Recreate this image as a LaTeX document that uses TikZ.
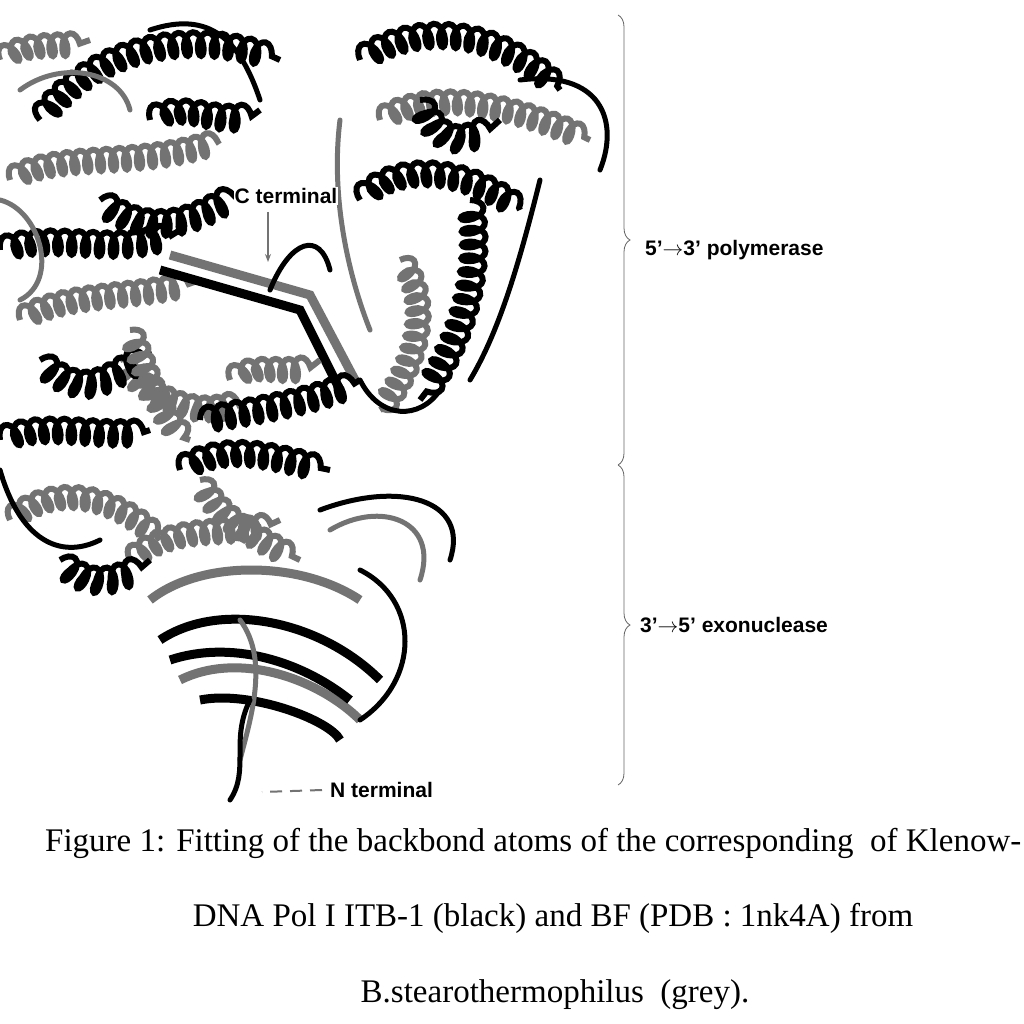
\documentclass[tikz,border=0pt]{standalone}
\usepackage{fontspec}
\setmainfont{Liberation Serif}
\setsansfont{Liberation Sans}
\usetikzlibrary{decorations.pathmorphing,decorations.pathreplacing,arrows.meta}
\begin{document}
\begin{tikzpicture}[x=1pt,y=-1pt,
  helixB/.style={draw=black,line width=6pt,decorate,decoration={coil,aspect=0.5,amplitude=12pt,segment length=14pt}},
  helixG/.style={draw=black!55,line width=6pt,decorate,decoration={coil,aspect=0.5,amplitude=11pt,segment length=13pt}},
  loopB/.style={draw=black,line width=5pt,line cap=round},
  loopG/.style={draw=black!55,line width=5pt,line cap=round},
  sheetB/.style={draw=black,line width=9pt},
  sheetG/.style={draw=black!55,line width=9pt},
  lbl/.style={font=\sffamily\bfseries\fontsize{21}{24}\selectfont,inner sep=0pt},
  captext/.style={font=\fontsize{33}{36}\selectfont,inner sep=0pt}]
\useasboundingbox (0,0) rectangle (1024,1024);
\fill[white] (0,0) rectangle (1024,1024);
\begin{scope}
\clip (0,0) rectangle (620,810);
% left upper lobe
\draw[helixB] (40,120) .. controls (100,40) and (200,30) .. (280,60);
\draw[helixG] (10,180) .. controls (60,150) and (140,170) .. (220,140);
\draw[helixB] (0,250) .. controls (60,230) and (120,260) .. (180,230);
\draw[helixG] (20,320) .. controls (70,290) and (140,300) .. (200,280);
\draw[helixB] (100,200) .. controls (150,240) and (200,220) .. (240,190);
\draw[helixG] (120,360) .. controls (150,400) and (200,420) .. (240,400);
\draw[helixB] (40,360) .. controls (80,400) and (110,380) .. (150,350);
\draw[helixB] (150,120) .. controls (190,100) and (220,130) .. (260,110);
\draw[helixG] (0,60) .. controls (30,40) and (60,50) .. (90,40);
\draw[loopB] (150,30) .. controls (210,10) and (240,40) .. (260,100);
\draw[loopG] (20,90) .. controls (60,60) and (120,70) .. (130,110);
\draw[sheetB] (160,270) -- (300,310) -- (340,390);
\draw[sheetG] (170,255) -- (310,295) -- (355,380);
\draw[loopB] (270,290) .. controls (290,240) and (320,230) .. (330,270);
\draw[loopG] (0,200) .. controls (40,210) and (60,280) .. (20,300);
% right lobe
\draw[helixB] (360,60) .. controls (420,20) and (500,30) .. (560,90);
\draw[helixG] (380,120) .. controls (430,90) and (500,100) .. (590,140);
\draw[helixB] (360,200) .. controls (400,160) and (470,170) .. (520,210);
\draw[helixG] (400,260) .. controls (430,300) and (420,360) .. (380,410);
\draw[helixB] (470,200) .. controls (480,260) and (470,330) .. (420,400);
\draw[helixB] (420,100) .. controls (440,150) and (470,140) .. (500,120);
\draw[loopB] (520,80) .. controls (600,70) and (620,120) .. (600,170);
\draw[loopG] (340,120) .. controls (330,200) and (350,280) .. (370,330);
\draw[loopB] (540,180) .. controls (520,260) and (500,330) .. (470,380);
\draw[loopB] (360,380) .. controls (380,420) and (420,420) .. (440,390);
% middle
\draw[helixG] (130,330) .. controls (150,380) and (160,420) .. (190,440);
\draw[helixB] (200,420) .. controls (260,410) and (320,400) .. (360,380);
\draw[helixG] (230,380) .. controls (260,360) and (290,380) .. (320,360);
% bottom lobe
\draw[helixB] (0,440) .. controls (50,420) and (100,440) .. (150,430);
\draw[helixG] (10,520) .. controls (60,480) and (120,500) .. (160,540);
\draw[helixB] (180,470) .. controls (230,440) and (280,460) .. (330,470);
\draw[helixG] (130,560) .. controls (180,520) and (230,540) .. (280,520);
\draw[helixG] (200,480) .. controls (220,520) and (260,540) .. (300,560);
\draw[helixB] (60,560) .. controls (90,590) and (120,580) .. (150,560);
\draw[loopB] (0,470) .. controls (20,540) and (60,560) .. (100,540);
\draw[sheetG] (150,600) .. controls (200,560) and (300,560) .. (360,600);
\draw[sheetB] (160,640) .. controls (220,600) and (320,620) .. (380,680);
\draw[sheetG] (180,680) .. controls (240,650) and (320,680) .. (360,720);
\draw[sheetB] (200,700) .. controls (250,690) and (330,720) .. (340,740);
\draw[sheetB] (170,660) .. controls (230,640) and (300,660) .. (350,700);
\draw[loopB] (320,510) .. controls (400,480) and (470,500) .. (450,560);
\draw[loopG] (330,530) .. controls (380,500) and (440,520) .. (420,580);
\draw[loopB] (360,570) .. controls (420,600) and (420,680) .. (360,720);
\draw[loopG] (240,620) .. controls (270,660) and (250,720) .. (240,760);
\draw[loopB] (250,700) .. controls (230,740) and (250,770) .. (230,800);
\end{scope}
% braces
\draw[black!60,line width=0.8pt,decorate,decoration={brace,amplitude=12pt}] (618,15) -- (618,465);
\draw[black!60,line width=0.8pt,decorate,decoration={brace,amplitude=12pt}] (618,465) -- (618,785);
% labels
\node[lbl,anchor=west] (pol) at (645,250) {5’$\rightarrow$3’ polymerase};
\node[lbl,anchor=west] (exo) at (640,625) {3’$\rightarrow$5’ exonuclease};
\node[lbl,fill=white,inner sep=1pt] (ct) at (286,196) {C terminal};
\coordinate (ctend) at (268,262);
\draw[black!55,line width=1.2pt,-{Stealth[length=8pt]}] (268,212) -- (ctend);
\node[lbl,anchor=west] (nt) at (330,790) {N terminal};
\coordinate (ntend) at (262,792);
\draw[black!55,line width=2pt,dash pattern=on 12pt off 8pt] (nt.west) ++(-8,0) -- (ntend);
% caption
\node[captext,anchor=west] (c1) at (45,843) {Figure 1: Fitting of the backbond atoms of the corresponding\ \ of Klenow-1};
\node[captext] (c2) at (553,918) {DNA Pol I ITB-1 (black) and BF (PDB : 1nk4A) from};
\node[captext] (c3) at (555,995) {B.stearothermophilus\ \ (grey).};
\end{tikzpicture}
\end{document}
